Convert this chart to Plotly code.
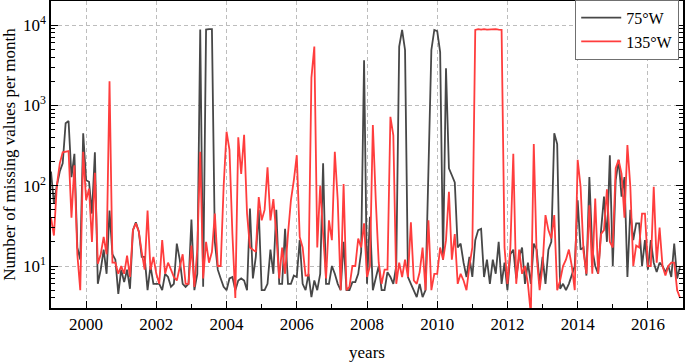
import numpy as np
import plotly.graph_objects as go

START_YEAR = 1999
N_MONTHS = 216

# Missing values per month, 75°W (gray), Jan 1999 .. Dec 2016
gray_75W = [
    150, 60, 100, 150, 190, 600, 640, 128, 250, 17, 12, 450,      # 1999
    117, 112, 45, 260, 6, 9, 16, 8, 49, 14, 12, 4.5,              # 2000
    9, 6.3, 9, 5.2, 28, 35, 27, 13, 13, 5, 10, 6,                 # 2001
    6, 6, 5, 8, 7.3, 5.5, 6, 19, 12, 6, 5.5, 6,                   # 2002
    38, 5, 8, 8800, 5.5, 8800, 8900, 8900, 20, 9, 7, 5.5,         # 2003
    5, 7, 7.3, 5, 6.6, 7, 6.6, 5, 52, 7, 13, 50,                  # 2004
    5, 5, 6, 16, 8, 50, 6, 6, 29, 6, 6, 7.6,                      # 2005
    7.3, 21, 6, 5, 8, 4.1, 6.6, 5, 8, 190, 6, 6,                  # 2006
    10, 8, 6, 5, 20, 5, 5, 6.3, 6.3, 8, 15, 3650,                 # 2007
    6, 41, 5, 7.3, 10, 5, 5, 8.4, 7.3, 6, 10, 5400,               # 2008
    8700, 4900, 7.3, 6, 5, 4.1, 6, 4.1, 5, 200, 4900, 8700,       # 2009
    8400, 4600, 12, 2900, 165, 135, 110, 17, 19, 11, 7.3, 13,     # 2010
    7.3, 21, 28, 29, 7.3, 12, 6, 12, 8, 20, 6, 11,                # 2011
    5, 14, 16, 7, 13, 17, 6, 11, 6, 19, 16, 6,                    # 2012
    13, 6, 16, 20, 450, 330, 5.2, 6, 5, 6, 8, 10,                 # 2013
    66, 16, 17, 7.6, 128, 16, 10, 8, 28, 73, 20, 240,             # 2014
    10, 117, 210, 73, 128, 7.3, 50, 21, 34, 34, 10, 21,           # 2015
    9, 21, 11, 8.4, 11, 10, 8.4, 10, 7.3, 19, 7, 10,              # 2016
]

# Missing values per month, 135°W (red)
red_135W = [
    40, 24, 100, 190, 260, 265, 270, 40, 180, 14, 5, 265,         # 1999
    66, 92, 20, 145, 10.7, 14, 23, 14, 2000, 11, 11, 8,           # 2000
    10, 8, 13.5, 7.3, 28, 34, 27, 15, 9, 49, 9, 13,               # 2001
    8, 6, 21, 8, 11, 9, 7.3, 6.6, 10, 14, 6, 6,                   # 2002
    18, 5.5, 16, 265, 7, 20, 11, 15, 45, 10, 10, 97,              # 2003
    470, 280, 25, 4, 400, 140, 430, 45, 17, 16, 15, 72,           # 2004
    37, 50, 170, 37, 68, 25, 7, 17, 8, 25, 66, 117,               # 2005
    240, 23, 17, 7.6, 7.6, 2200, 5400, 17, 100, 25, 7, 37,        # 2006
    21, 265, 66, 5, 105, 5, 5.5, 10, 10, 22, 17, 34,              # 2007
    7.3, 10, 570, 66, 11, 6, 9, 9, 720, 425, 6, 11,               # 2008
    7.3, 12, 7.3, 35, 6.6, 6, 8.4, 17, 5, 37, 5, 8,               # 2009
    8, 17, 12, 21, 84, 12, 25, 6, 8, 6.6, 5, 10,                  # 2010
    17, 8700, 8900, 8800, 8900, 8800, 8850, 8800, 8900, 8800, 8750, 17,  # 2011
    6, 17, 250, 6, 16, 8, 10, 6, 2.5, 330, 13, 5,                 # 2012
    10, 43, 28, 22, 43, 5, 6.6, 10, 12, 16, 10, 5,                # 2013
    210, 97, 15, 8, 57, 8, 69, 8, 25, 28, 90, 20,                 # 2014
    17, 165, 210, 140, 40, 320, 97, 10, 18, 17, 45, 45,           # 2015
    10, 10, 97, 11, 30, 10, 7.6, 10, 11, 11, 5, 4,                # 2016
]

series_names = ["75°W", "135°W"]
x_tick_years = list(range(2000, 2017, 2))
y_major = [10, 100, 1000, 10000]
y_major_text = ["10<sup>1</sup>", "10<sup>2</sup>", "10<sup>3</sup>", "10<sup>4</sup>"]

x_time = [START_YEAR + i / 12 for i in range(N_MONTHS)]
y_minor = [k * 10 ** e for e in range(0, 5) for k in range(2, 10)]

FONT = "Liberation Serif"

fig = go.Figure()
fig.add_trace(go.Scatter(x=x_time, y=gray_75W, mode="lines", name=series_names[0],
                         line=dict(color="#474747", width=1.8)))
fig.add_trace(go.Scatter(x=x_time, y=red_135W, mode="lines", name=series_names[1],
                         line=dict(color="#ff3d3d", width=1.8)))

fig.update_layout(
    width=685, height=362,
    margin=dict(l=51, r=2, t=1, b=54, autoexpand=False),
    paper_bgcolor="white", plot_bgcolor="white",
    font=dict(family=FONT, size=17, color="black"),
    legend=dict(x=0.994, y=1.004, xanchor="right", yanchor="top",
                bgcolor="white", bordercolor="#707070", borderwidth=1,
                font=dict(family=FONT, size=16), tracegroupgap=0,
                itemwidth=40),
)
fig.update_xaxes(
    range=[1999, 2017], tickmode="array", tickvals=x_tick_years,
    ticks="inside", ticklen=7, tickwidth=1.3, tickcolor="black",
    showline=True, linecolor="black", linewidth=1.5, mirror=True,
    showgrid=True, gridcolor="#bdbdbd", gridwidth=1, griddash="4px,3px",
    zeroline=False, automargin=False,
    minor=dict(dtick=1, tick0=1999, ticks="inside", ticklen=4, tickwidth=1.3,
               tickcolor="black", showgrid=False),
    title=dict(text="years", font=dict(family=FONT, size=17), standoff=14),
)
fig.update_yaxes(
    type="log", range=[np.log10(3), 4.30],
    tickmode="array", tickvals=y_major, ticktext=y_major_text,
    ticks="inside", ticklen=7, tickwidth=1.3, tickcolor="black",
    showline=True, linecolor="black", linewidth=1.5, mirror="allticks",
    showgrid=True, gridcolor="#bdbdbd", gridwidth=1, griddash="4px,3px",
    zeroline=False, automargin=False,
    minor=dict(tickmode="array", tickvals=y_minor, ticks="inside", ticklen=4,
               tickwidth=1.3, tickcolor="black", showgrid=False),
    title=dict(text="Number of missing values per month", font=dict(family=FONT, size=17), standoff=4),
)

fig.write_html("out.html", config={"displayModeBar": False},
               post_script="document.body.style.margin='0';")
